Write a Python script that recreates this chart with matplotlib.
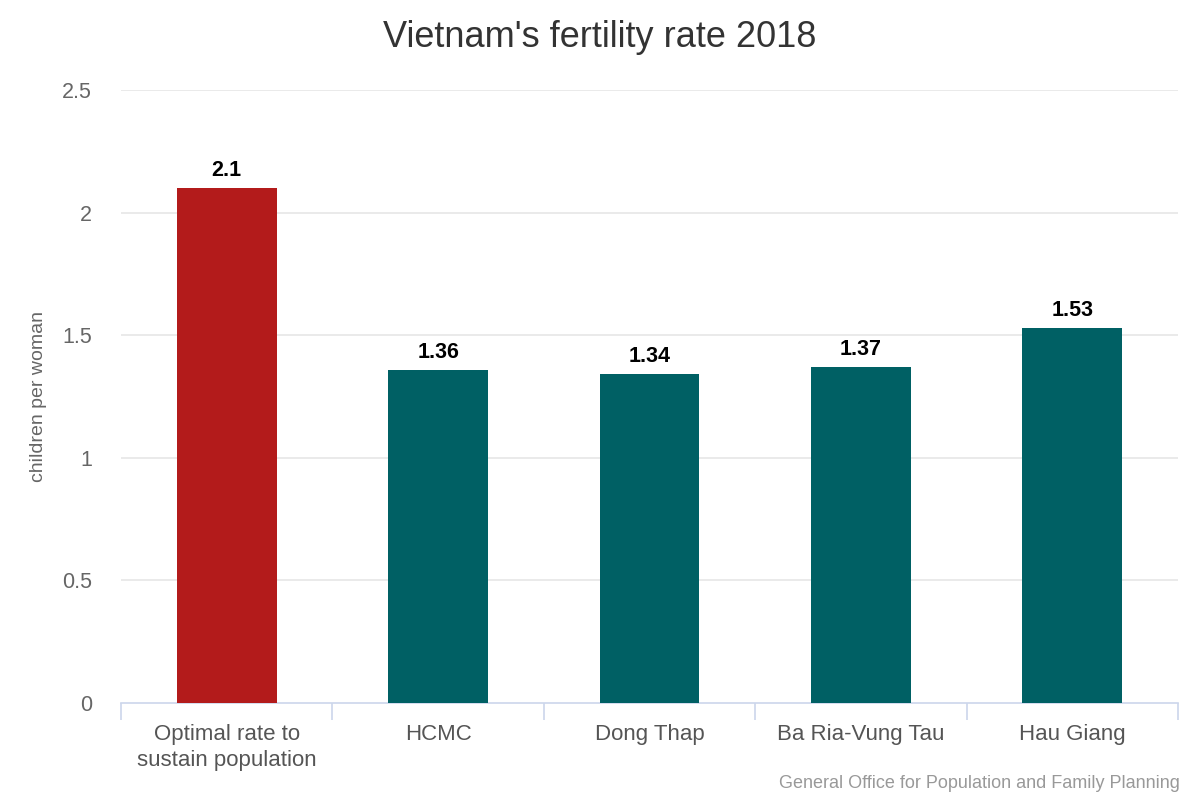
import matplotlib.pyplot as plt
import numpy as np

plt.rcParams['font.family'] = ['Liberation Sans', 'DejaVu Sans']

categories = ["Optimal rate to\nsustain population", "HCMC", "Dong Thap", "Ba Ria-Vung Tau", "Hau Giang"]
values = [2.1, 1.36, 1.34, 1.37, 1.53]
colors = ["#b31b1b", "#006064", "#006064", "#006064", "#006064"]
yticks = [0, 0.5, 1, 1.5, 2, 2.5]
ytick_labels = ["0", "0.5", "1", "1.5", "2", "2.5"]


def main():
    fig = plt.figure(figsize=(12, 8), dpi=100)
    ax = fig.add_axes([0.1008, 0.12125, 0.8809, 0.76625])

    x = np.arange(len(categories))
    bars = ax.bar(x, values, width=0.473, color=colors, zorder=3)

    # popisky hodnot nad sloupci
    for b, v in zip(bars, values):
        ax.annotate(f"{v:g}", (b.get_x() + b.get_width() / 2, v),
                    xytext=(0, 5), textcoords="offset points",
                    ha="center", va="bottom", fontsize=15.5, fontweight="bold", color="black")

    ax.set_xlim(-0.5, len(categories) - 0.5)
    ax.set_ylim(0, 2.5)
    ax.set_yticks(yticks)
    ax.set_yticklabels(ytick_labels)
    for y in yticks[1:]:
        ax.axhline(y, color="#e6e6e6", lw=1.2, zorder=1)

    ax.set_xticks(x)
    ax.set_xticklabels(categories, linespacing=1.35)
    ax.set_xticks(np.arange(-0.5, len(categories)), minor=True)
    ax.tick_params(axis="x", which="major", length=0, pad=15, labelsize=16, labelcolor="#555555")
    ax.tick_params(axis="x", which="minor", length=12, width=1.2, color="#ccd6eb")
    ax.tick_params(axis="y", length=0, pad=21, labelsize=15.5, labelcolor="#666666")

    for s in ["top", "right", "left"]:
        ax.spines[s].set_visible(False)
    ax.spines["bottom"].set_color("#ccd6eb")
    ax.spines["bottom"].set_linewidth(1.2)

    ax.set_ylabel("children per woman", fontsize=14, color="#666666")
    ax.yaxis.set_label_coords(-0.07, 0.5)
    fig.text(0.5, 0.953, "Vietnam's fertility rate 2018", ha="center", va="center",
             fontsize=26, color="#333333")
    fig.text(0.983, 0.021, "General Office for Population and Family Planning",
             ha="right", va="center", fontsize=13, color="#999999")

    fig.savefig("out.png", dpi=100)


if __name__ == "__main__":
    main()
